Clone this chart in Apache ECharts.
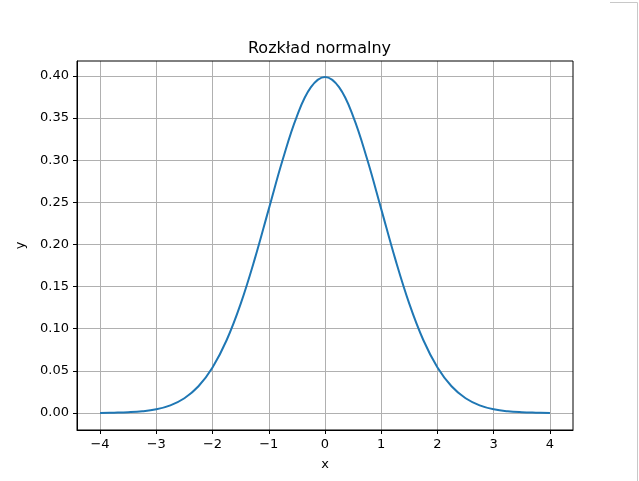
<!DOCTYPE html>
<html><head><meta charset="utf-8">
<script src="https://cdn.jsdelivr.net/npm/echarts@6/dist/echarts.min.js"></script>
<style>html,body{margin:0;padding:0;background:#fff}#c{width:639px;height:481px}</style>
</head><body><div id="c"></div>
<script>
const xs = [-4,-3.75,-3.5,-3.25,-3,-2.75,-2.5,-2.25,-2,-1.75,-1.5,-1.25,-1,-0.75,-0.5,-0.25,0,0.25,0.5,0.75,1,1.25,1.5,1.75,2,2.25,2.5,2.75,3,3.25,3.5,3.75,4];
const ys = [0.0001,0.0004,0.0009,0.0020,0.0044,0.0091,0.0175,0.0317,0.0540,0.0863,0.1295,0.1826,0.2420,0.3011,0.3521,0.3867,0.3989,0.3867,0.3521,0.3011,0.2420,0.1826,0.1295,0.0863,0.0540,0.0317,0.0175,0.0091,0.0044,0.0020,0.0009,0.0004,0.0001];
const xTicks = [-4,-3,-2,-1,0,1,2,3,4];
const yTicks = [0,0.05,0.10,0.15,0.20,0.25,0.30,0.35,0.40];
const font = 'DejaVu Sans';
const chart = echarts.init(document.getElementById('c'));
chart.setOption({
  animation:false,
  title:{text:'Rozkład normalny',left:'center',top:36,textStyle:{fontFamily:font,fontSize:16,fontWeight:'normal',color:'#000'}},
  grid:{left:77,top:61,width:496,height:369},
  xAxis:{type:'value',min:-4.41,max:4.41,name:'x',nameLocation:'middle',nameGap:28,
    nameTextStyle:{fontFamily:font,fontSize:13,color:'#000'},
    axisLine:{onZero:false,lineStyle:{color:'#000'}},
    axisTick:{customValues:xTicks,length:4,inside:false,lineStyle:{color:'#000'}},
    axisLabel:{customValues:xTicks,fontFamily:font,fontSize:13,color:'#000',margin:8,formatter:v=>String(v).replace('-','\u2212')},
    splitLine:{show:true,lineStyle:{color:'#b0b0b0',width:1}}},
  yAxis:{type:'value',min:-0.0202,max:0.4178,name:'y',nameLocation:'middle',nameGap:50,
    nameTextStyle:{fontFamily:font,fontSize:13,color:'#000'},
    axisLine:{show:true,onZero:false,lineStyle:{color:'#000'}},
    axisTick:{show:true,customValues:yTicks,length:4,lineStyle:{color:'#000'}},
    axisLabel:{customValues:yTicks,fontFamily:font,fontSize:13,color:'#000',margin:8,formatter:v=>v.toFixed(2)},
    splitLine:{show:true,lineStyle:{color:'#b0b0b0',width:1}}},
  graphic:[
    {type:'rect',shape:{x:77,y:61,width:496,height:369},style:{fill:null,stroke:'#000',lineWidth:1},z:100},
    {type:'polyline',shape:{points:[[610,2.5],[637.5,2.5],[637.5,481]]},style:{fill:null,stroke:'#c8c8c8',lineWidth:1}}
  ],
  series:[{type:'line',data:xs.map((x,i)=>[x,ys[i]]),smooth:0.4,showSymbol:false,lineStyle:{color:'#1f77b4',width:2}}]
});
</script></body></html>
